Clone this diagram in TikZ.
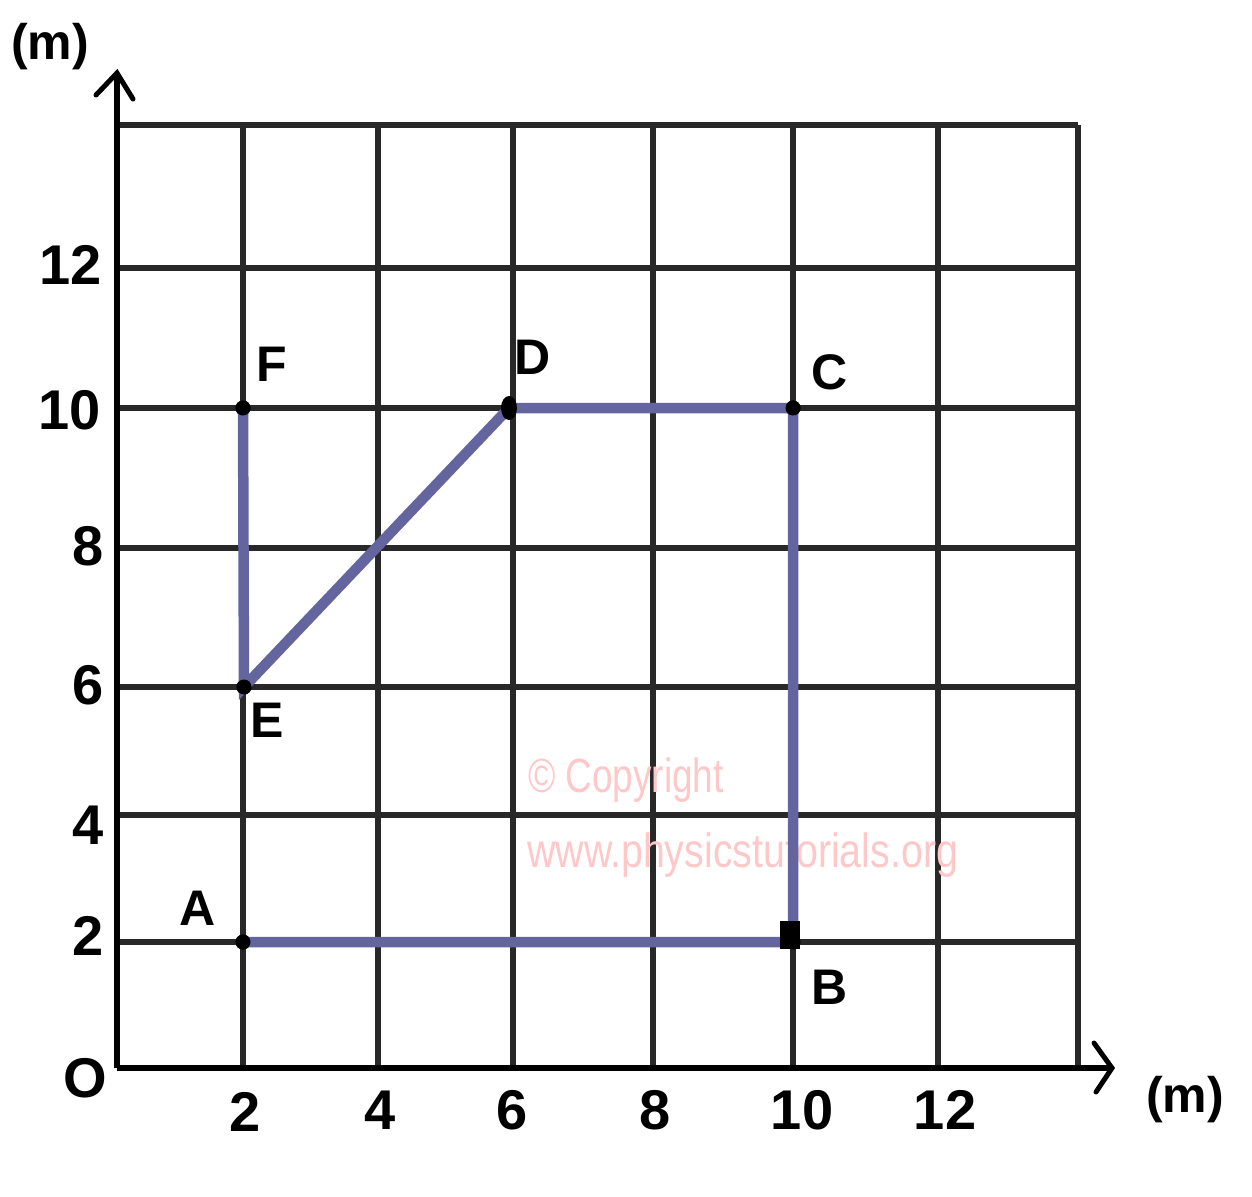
\documentclass[tikz,border=0pt]{standalone}
\usepackage{fontspec}
\usetikzlibrary{shapes.geometric}
\setmainfont{Liberation Sans}
\definecolor{pathc}{RGB}{100,100,158}
\definecolor{gridc}{RGB}{40,40,40}
\definecolor{wmark}{RGB}{255,200,200}
\begin{document}
\begin{tikzpicture}[x=1pt,y=-1pt,
  gridline/.style={draw=gridc,line width=5.5pt},
  axisline/.style={draw=black,line width=6pt},
  chev/.style={draw=black,line width=5pt,line cap=round,line join=miter},
  route/.style={draw=pathc,line width=10.5pt,line cap=butt,line join=miter},
  tick/.style={font=\fontsize{56}{60}\selectfont\bfseries,inner sep=0pt},
  ptlabel/.style={font=\fontsize{50}{54}\selectfont\bfseries,inner sep=0pt},
  unit/.style={font=\fontsize{50}{54}\selectfont\bfseries,inner sep=0pt},
  dot/.style={circle,fill=black,inner sep=0pt,minimum size=15pt},
  longdot/.style={ellipse,fill=black,inner sep=0pt,minimum height=24pt,minimum width=16pt},
  sqdot/.style={rectangle,fill=black,inner sep=0pt,minimum width=20pt,minimum height=28pt},
  wm/.style={text=wmark,font=\fontsize{48}{52}\selectfont,inner sep=0pt,anchor=west}]
\useasboundingbox (0,0) rectangle (1252,1196);
% grid
\foreach \x in {243,378,513,653,793,938,1078}
  \draw[gridline] (\x,125) -- (\x,1068);
\foreach \y in {125,268,408,548,687,815,942}
  \draw[gridline] (117,\y) -- (1078,\y);
% axes
\coordinate (O) at (117,1068);
\coordinate (ytip) at (117,73);
\coordinate (xtip) at (1112,1068);
\draw[axisline] (O) -- (ytip);
\draw[axisline] (O) -- (xtip);
\coordinate (yl) at (96,95);
\coordinate (yr) at (133,99);
\coordinate (xu) at (1094,1043);
\coordinate (xd) at (1096,1092);
\draw[chev] (yl) -- (ytip) -- (yr);
\draw[chev] (xu) -- (xtip) -- (xd);
% tick labels
\node[tick] (y12) at (71,265) {12};
\node[tick] (y10) at (70,410) {10};
\node[tick] (y8) at (88,546) {8};
\node[tick] (y6) at (88,685) {6};
\node[tick] (y4) at (88,825) {4};
\node[tick] (y2) at (88,936) {2};
\node[tick] (x2) at (245,1112) {2};
\node[tick] (x4) at (380,1110) {4};
\node[tick] (x6) at (512,1110) {6};
\node[tick] (x8) at (655,1110) {8};
\node[tick] (x10) at (802,1110) {10};
\node[tick] (x12) at (945,1110) {12};
\node[tick] (Olab) at (85,1078) {O};
\node[unit] (uy) at (50,47) {(m)};
\node[unit] (ux) at (1185,1100) {(m)};
% watermark
\node[wm,xscale=0.77] (wm1) at (528,780) {© Copyright};
\node[wm,xscale=0.82] (wm2) at (527,855) {www.physicstutorials.org};
% points
\node[dot] (A) at (243,942) {};
\node[dot] (B) at (793,942) {};
\node[dot] (C) at (793,408) {};
\node[dot] (D) at (509,408) {};
\node[dot] (E) at (244,687) {};
\node[dot] (F) at (243,408) {};
% route
\draw[route] (A.center) -- (B.center) -- (C.center) -- (D.center) -- (E.center) -- (F.center);
\node[dot] at (A) {};
\node[sqdot] (Bsq) at (790,935) {};
\node[dot] at (C) {};
\node[longdot] at (D) {};
\node[dot] at (E) {};
\node[dot] at (F) {};
% point labels
\node[ptlabel] (lA) at (198,908) {A};
\node[ptlabel] (lB) at (830,987) {B};
\node[ptlabel] (lC) at (830,372) {C};
\node[ptlabel] (lD) at (533,357) {D};
\node[ptlabel] (lE) at (267,720) {E};
\node[ptlabel] (lF) at (272,364) {F};
\end{tikzpicture}
\end{document}
